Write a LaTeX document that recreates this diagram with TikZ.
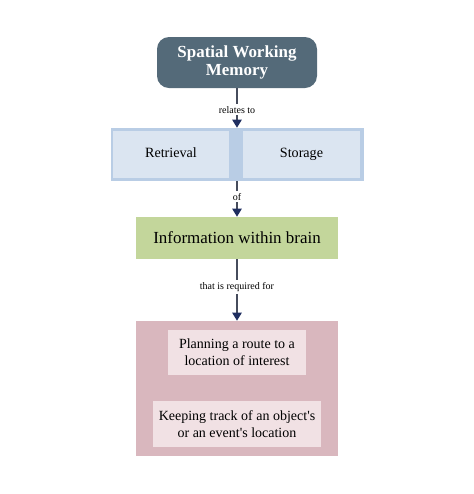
\documentclass[tikz,border=0pt]{standalone}
\usepackage{fontspec}
\setmainfont{Liberation Serif}
\usetikzlibrary{arrows.meta}
\definecolor{slate}{RGB}{84,106,121}
\definecolor{blueedge}{RGB}{185,205,229}
\definecolor{bluefill}{RGB}{219,229,241}
\definecolor{greenfill}{RGB}{195,214,155}
\definecolor{pinkfill}{RGB}{217,183,190}
\definecolor{pinklight}{RGB}{241,225,228}
\definecolor{linegray}{RGB}{70,76,92}
\definecolor{tipnavy}{RGB}{31,46,96}

\begin{document}
\begin{tikzpicture}[>={Triangle[width=7pt,length=6pt,color=tipnavy]}, x=0.75pt, y=-0.75pt,
    box/.style={inner sep=0pt, align=center},
    lbl/.style={fill=white, inner sep=1.5pt, font=\fontsize{7.5}{9}\selectfont},
    link/.style={->, line width=1.1pt, draw=linegray}]

    \useasboundingbox (0,0) rectangle (474,494);

    \draw(237,62.5) node[box, fill=slate, rounded corners=9pt, minimum width=120pt,
    minimum height=38.25pt, text=white, font=\bfseries\fontsize{12.7}{14}\selectfont]
    (SWM) {Spatial Working\\Memory};

    \draw(237,154.5) node[box, fill=blueedge, minimum width=189.75pt,
    minimum height=39.75pt] (RS) {};
    \draw(171,154.5) node[box, fill=bluefill, minimum width=87pt, minimum height=35.25pt,
    text height=1.5ex, text depth=.4ex, font=\fontsize{10.6}{12.7}\selectfont] (Ret) {Retrieval};
    \draw(301.5,154.5) node[box, fill=bluefill, minimum width=87.75pt, minimum height=35.25pt,
    text height=1.5ex, text depth=.4ex, font=\fontsize{10.6}{12.7}\selectfont] (Sto) {Storage};

    \draw(237,238) node[box, fill=greenfill, minimum width=151.5pt, minimum height=31.5pt,
    font=\fontsize{12.7}{15}\selectfont] (Info) {Information within brain};

    \draw(237,388.5) node[box, fill=pinkfill, minimum width=151.5pt,
    minimum height=101.25pt] (Use) {};
    \draw(237,352.5) node[box, fill=pinklight, minimum width=103.5pt, minimum height=33.75pt,
    font=\fontsize{10.5}{12.75}\selectfont] (Route) {Planning a route to a\\location of interest};
    \draw(237,424) node[box, fill=pinklight, minimum width=126pt, minimum height=34.5pt,
    font=\fontsize{10.5}{12.75}\selectfont] (Track)
    {Keeping track of an object\textquotesingle s\\or an event\textquotesingle s location};

    \draw[link] (SWM.south) -- (RS.north) node[lbl, pos=0.55] {relates to};
    \draw[link] (RS.south) -- (Info.north) node[lbl, pos=0.44] {of};
    \draw[link] (Info.south) -- (Use.north) node[lbl, pos=0.45] {that is required for};

    \end{tikzpicture}
\end{document}
